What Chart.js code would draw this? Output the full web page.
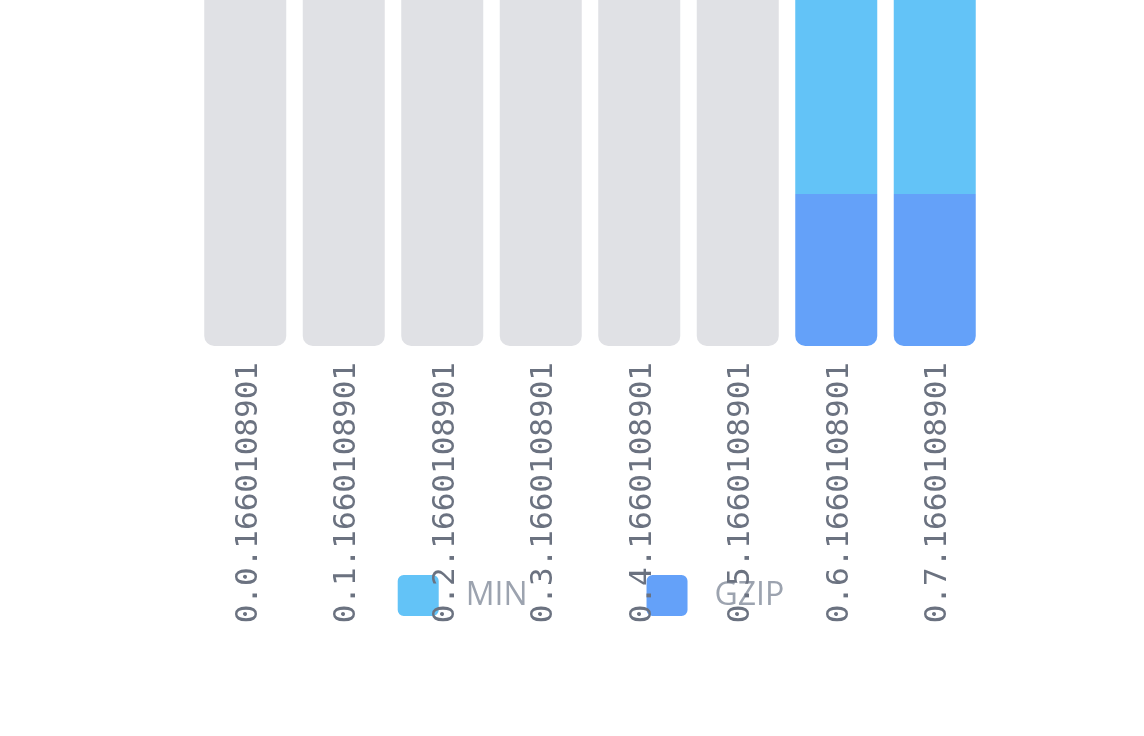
<!DOCTYPE html>
<html>
<head>
<meta charset="utf-8">
<script src="https://cdn.jsdelivr.net/npm/chart.js@4.4.1/dist/chart.umd.min.js"></script>
<style>
  html, body { margin: 0; padding: 0; background: #ffffff; }
  #wrap { width: 1144px; height: 736px; position: relative; }
</style>
</head>
<body>
<div id="wrap"><canvas id="sizeChart"></canvas></div>
<script>
// Versions on the x axis
const versions = [
    '0.0.1660108901', '0.1.1660108901', '0.2.1660108901', '0.3.1660108901',
    '0.4.1660108901', '0.5.1660108901', '0.6.1660108901', '0.7.1660108901'
];

// Sizes (kB) - only the last two builds have numbers
const gzipSizes = [null, null, null, null, null, null, 4.39, 4.39];
const minSizes = [null, null, null, null, null, null, 10.5, 10.5];

// Grey placeholder for builds without size data (runs off the top)
const noData = [12, 12, 12, 12, 12, 12, null, null];

const yMax = 10;

const bottomRound = { topLeft: 0, topRight: 0, bottomLeft: 10, bottomRight: 10 };

const ctx = document.getElementById('sizeChart').getContext('2d');

const chart = new Chart(ctx, {
    type: 'bar',
    data: {
        labels: versions,
        datasets: [
            {
                label: 'N/A',
                data: noData,
                backgroundColor: '#e0e1e5',
                borderWidth: 0,
                borderSkipped: false,
                borderRadius: bottomRound
            },
            {
                label: 'GZIP',
                data: gzipSizes,
                backgroundColor: '#64a1f9',
                borderWidth: 0,
                borderSkipped: false,
                borderRadius: bottomRound
            },
            {
                label: 'MIN',
                data: minSizes,
                backgroundColor: '#63c3f7',
                borderWidth: 0,
                borderSkipped: false,
                borderRadius: 0
            }
        ]
    },
    options: {
        responsive: true,
        maintainAspectRatio: false,
        animation: false,
        layout: {
            padding: { left: 187, right: 160, top: 0, bottom: 99 }
        },
        datasets: {
            bar: {
                categoryPercentage: 0.9,
                barPercentage: 0.925
            }
        },
        plugins: {
            tooltip: { enabled: false },
            legend: {
                position: 'bottom',
                reverse: true,  // MIN first, GZIP second
                labels: {
                    boxWidth: 63,
                    boxHeight: 63,
                    padding: 108,
                    useBorderRadius: true,
                    borderRadius: 17,
                    color: '#9ca3af',
                    font: { family: "'Open Sans', sans-serif", size: 32 },
                    filter: item => item.text !== 'N/A',
                    // white outline trims the swatch and leaves a wider gap before the text
                    generateLabels: c => Chart.defaults.plugins.legend.labels.generateLabels(c)
                        .map(item => Object.assign(item, { lineWidth: 22, strokeStyle: '#ffffff' }))
                }
            }
        },
        scales: {
            x: {
                stacked: true,
                grid: { display: false, drawTicks: false },
                border: { display: false },
                ticks: {
                    autoSkip: false,
                    minRotation: 90,
                    maxRotation: 90,
                    padding: 16,
                    z: 1,  // labels sit over the legend
                    color: '#6b7280',
                    // transparent backdrop keeps the rotated labels a little right of the tick
                    showLabelBackdrop: true,
                    backdropColor: 'rgba(0,0,0,0)',
                    font: { family: "'DejaVu Sans Mono', monospace", size: 31, lineHeight: 0.23 }
                },
                // labels are taller than the axis box and run under the legend
                afterFit: scale => {
                    scale.height = 110;
                    scale._computeLabelArea = () => ({
                        top: 0, left: 0, bottom: scale.chart.height, right: scale.chart.width
                    });
                }
            },
            y: {
                stacked: true,
                display: true,
                min: 0,
                max: yMax,
                grid: { display: false },
                border: { display: false },
                ticks: { display: false },
                afterFit: scale => { scale.width = 9; }
            }
        }
    }
});
</script>
</body>
</html>
